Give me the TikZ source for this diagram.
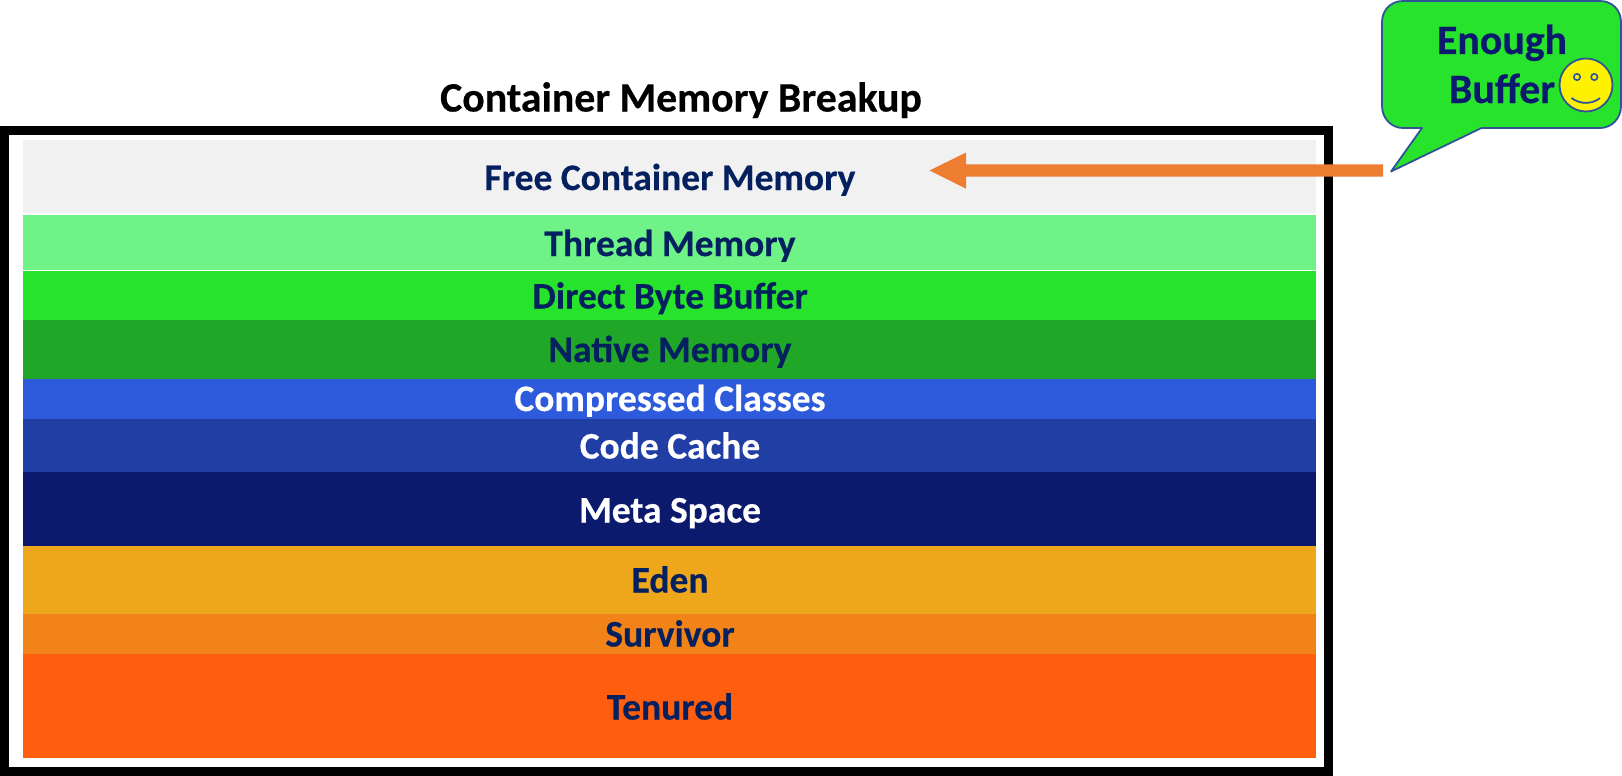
\documentclass[tikz,border=0pt]{standalone}
\usepackage{fontspec}
\setmainfont[BoldFeatures={FakeBold=0.4}]{Carlito}
\definecolor{txtnavy}{HTML}{04205F}
\definecolor{callnavy}{HTML}{0B1A6E}
\definecolor{cfree}{HTML}{F1F1F1}
\definecolor{cthread}{HTML}{6FF386}
\definecolor{cdirect}{HTML}{28E32C}
\definecolor{cnative}{HTML}{21A728}
\definecolor{ccomp}{HTML}{2E5BDB}
\definecolor{ccode}{HTML}{213EA5}
\definecolor{cmeta}{HTML}{0C1A6E}
\definecolor{ceden}{HTML}{EEA61B}
\definecolor{csurv}{HTML}{F18318}
\definecolor{cten}{HTML}{FF5E0E}
\definecolor{carrow}{HTML}{ED7D31}
\definecolor{cedge}{HTML}{2F5597}
\tikzset{
  x=1pt,y=-1pt,
  lab/.style={font=\fontsize{37.5}{44}\selectfont\bfseries,text=txtnavy,anchor=base,inner sep=0pt},
  labw/.style={lab,text=white},
  big/.style={lab,font=\fontsize{41.8}{48}\selectfont\bfseries},
}
\begin{document}
\begin{tikzpicture}
\useasboundingbox (0,0) rectangle (1622,776);
\fill[black] (0,126) rectangle (1333,776);
\fill[white] (9,135) rectangle (1324,767);
\fill[cfree] (23,140) rectangle (1316,213);
\fill[cthread] (23,215) rectangle (1316,270);
\fill[cdirect] (23,271) rectangle (1316,320);
\fill[cnative] (23,320) rectangle (1316,379);
\fill[ccomp] (23,379) rectangle (1316,419);
\fill[ccode] (23,419) rectangle (1316,472);
\fill[cmeta] (23,472) rectangle (1316,546);
\fill[ceden] (23,546) rectangle (1316,614);
\fill[csurv] (23,614) rectangle (1316,654);
\fill[cten] (23,654) rectangle (1316,758);
\node[big,text=black] (title) at (681,111.5) {Container Memory Breakup};
\node[lab] (free) at (670,190) {Free Container Memory};
\node[lab] (thread) at (670,256) {Thread Memory};
\node[lab] (direct) at (670,308.5) {Direct Byte Buffer};
\node[lab] (native) at (670,362) {Native Memory};
\node[labw] (comp) at (670,411) {Compressed Classes};
\node[labw] (code) at (670,458.5) {Code Cache};
\node[labw] (meta) at (670,522.5) {Meta Space};
\node[lab] (eden) at (670,592.5) {Eden};
\node[lab] (surv) at (670,646.5) {Survivor};
\node[lab] (ten) at (670,719.5) {Tenured};
% callout
\draw[cedge,line width=1.8pt,fill=cdirect,line join=round]
  (1403,128) .. controls (1391,128) and (1382,118) .. (1382,106)
  -- (1382,22) .. controls (1382,10) and (1391,1) .. (1403,1)
  -- (1600,1) .. controls (1612,1) and (1621,10) .. (1621,22)
  -- (1621,106) .. controls (1621,118) and (1612,128) .. (1600,128)
  -- (1481.5,128) -- (1391,171.5) -- (1422,128) -- cycle;
\node[big,text=callnavy] (enough) at (1502,54) {Enough};
\node[big,text=callnavy] (buffer) at (1502,103) {Buffer};
% smiley
\draw[cedge,line width=1.8pt,fill=yellow] (1586,85) circle (26.5);
\draw[cedge,line width=1.6pt] (1577,77) circle (3.2);
\draw[cedge,line width=1.6pt] (1594.3,77) circle (3.2);
\draw[cedge,line width=1.8pt] (1571.5,98) .. controls (1580,104.5) and (1592,104.5) .. (1600,98);
% arrow
\fill[carrow] (1383,164.3) -- (966,164.3) -- (966,152.5) -- (929.5,170.5) -- (966,188.7) -- (966,176.7) -- (1383,176.7) -- cycle;
\end{tikzpicture}
\end{document}
